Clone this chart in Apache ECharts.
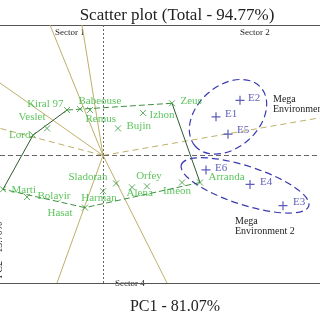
<!DOCTYPE html>
<html>
<head>
<meta charset="utf-8">
<script src="https://cdn.jsdelivr.net/npm/echarts@6/dist/echarts.min.js"></script>
<style>
  html, body { margin: 0; padding: 0; background: #fff; }
  #main { width: 320px; height: 320px; }
</style>
</head>
<body>
<div id="main"></div>
<script>
// genotypes (PC1, PC2)
var genoNames = ['Kiral 97', 'Babeouse', 'Remus', 'Veslet', 'Lord', 'Bujin', 'Izhon', 'Zeus',
    'Arranda', 'Imeon', 'Orfey', 'Alena', 'Sladoran', 'Harman', 'Bolayir', 'Marti', 'Hasat'];
var genoPC1 = [-0.72, -0.46, -0.26, -1.12, -1.40, 0.30, 0.80, 1.38,
    1.94, 1.58, 0.88, 0.58, 0.26, 0.00, -1.52, -2.00, -0.36];
var genoPC2 = [0.94, 0.96, 0.94, 0.56, 0.42, 0.56, 0.88, 1.08,
    -0.56, -0.56, -0.64, -0.66, -0.58, -0.74, -0.86, -0.70, -1.08];

// environments
var envNames = ['E1', 'E2', 'E3', 'E4', 'E5', 'E6'];
var envPC1 = [2.26, 2.74, 3.60, 2.94, 2.50, 2.06];
var envPC2 = [0.80, 1.14, -1.04, -0.60, 0.44, -0.30];

// polygon (vertex genotypes) and which edges are dashed
var polygonOrder = ['Zeus', 'Arranda', 'Hasat', 'Marti', 'Lord', 'Kiral 97'];
var edgeDashed = [false, true, true, false, false, true];

// sector rays from the origin, end points
var rayEnds = [[-2.06, 1.50], [-2.06, 0.56], [-1.06, 2.70], [-0.42, 2.70], [-0.92, -2.64], [1.28, -2.64], [4.34, 0.78]];
var rayDashed = [false, true, false, false, false, false, true];

// mega environments: center x, center y, semi axis x, semi axis y, angle
var megaEnv = [[2.50, 0.80, 0.88, 0.64, 42], [2.84, -0.62, 1.34, 0.40, -18]];

// label placement [position, dx, dy]
var genoLabel = {
    'Kiral 97': ['left', 5, -6], 'Babeouse': ['right', -10, -8], 'Remus': ['right', -13, 9],
    'Veslet': ['left', 7, -11], 'Lord': ['left', 6, 0], 'Bujin': ['right', 0, -2],
    'Izhon': ['right', -2, 2], 'Zeus': ['right', 0, -2], 'Arranda': ['right', 0, -5],
    'Imeon': ['bottom', -5, -5], 'Orfey': ['top', 2, 4], 'Alena': ['right', -14, 6],
    'Sladoran': ['left', 0, -6], 'Harman': ['bottom', -4, -7], 'Bolayir': ['right', 2, -1],
    'Marti': ['right', 0, 1], 'Hasat': ['left', -4, 5]
};
var envLabel = {
    'E1': [-1, -3], 'E2': [-2, -2], 'E3': [0, -4], 'E4': [0, -2], 'E5': [-1, -4], 'E6': [-1, -2]
};

var serif = 'Liberation Serif';
var green = '#35b535';
var blue = '#3434a8';

var genoData = genoNames.map(function (n, i) {
    var l = genoLabel[n];
    return { name: n, value: [genoPC1[i], genoPC2[i]], label: { position: l[0], offset: [l[1], l[2]] } };
});
var envData = envNames.map(function (n, i) {
    var l = envLabel[n];
    return { name: n, value: [envPC1[i], envPC2[i]], label: { offset: [l[0], l[1]] } };
});

function pt(name) {
    var i = genoNames.indexOf(name);
    return [genoPC1[i], genoPC2[i]];
}

var series = [];

// rays
rayEnds.forEach(function (e, i) {
    series.push({
        type: 'line', silent: true, symbol: 'none', z: 1,
        data: [[0, 0], e],
        lineStyle: { color: '#bcb06a', width: 1, type: rayDashed[i] ? [6, 4] : 'solid' }
    });
});

// polygon edges
polygonOrder.forEach(function (n, i) {
    var next = polygonOrder[(i + 1) % polygonOrder.length];
    series.push({
        type: 'line', silent: true, symbol: 'none', z: 2,
        data: [pt(n), pt(next)],
        lineStyle: edgeDashed[i] ? { color: '#3f8f3f', width: 1, type: [6, 3] } : { color: '#2b5a2b', width: 1 }
    });
});

// axes through origin
series.push({
    type: 'line', silent: true, data: [], z: 1,
    markLine: {
        silent: true, symbol: 'none', label: { show: false },
        data: [
            { xAxis: 0, lineStyle: { color: '#666', type: [2, 2], width: 1 } },
            { yAxis: 0, lineStyle: { color: '#666', type: [5, 3], width: 1 } }
        ]
    }
});

// mega environment ellipses
series.push({
    type: 'custom', silent: true, z: 3,
    data: megaEnv,
    renderItem: function (params, api) {
        var c = api.coord([api.value(0), api.value(1)]);
        var s = api.size([api.value(2), api.value(3)]);
        return {
            type: 'ellipse',
            x: c[0], y: c[1],
            rotation: api.value(4) * Math.PI / 180,
            shape: { cx: 0, cy: 0, rx: s[0], ry: s[1] },
            style: { fill: 'none', stroke: '#3a3ab0', lineWidth: 1.2, lineDash: [7, 4] }
        };
    }
});

// genotypes
series.push({
    type: 'scatter', z: 4,
    symbol: 'path://M0,0L10,10M10,0L0,10', symbolSize: 6,
    itemStyle: { color: 'transparent', borderColor: '#3a9a3a', borderWidth: 1 },
    label: { show: true, formatter: '{b}', color: green, fontFamily: serif, fontSize: 11, distance: 5 },
    data: genoData
});

// environments
series.push({
    type: 'scatter', z: 4,
    symbol: 'path://M5,0L5,10M0,5L10,5', symbolSize: 9,
    itemStyle: { color: 'transparent', borderColor: blue, borderWidth: 1.2 },
    label: { show: true, position: 'right', formatter: '{b}', color: blue, fontFamily: serif, fontSize: 11, distance: 5 },
    data: envData
});

var myChart = echarts.init(document.getElementById('main'));
myChart.setOption({
    animation: false,
    title: {
        text: 'Scatter plot (Total - 94.77%)',
        left: 172, top: 2, textAlign: 'center',
        textStyle: { fontFamily: serif, fontSize: 17, fontWeight: 'normal', color: '#222' }
    },
    grid: { left: 0, right: 0, top: 25, bottom: 28 },
    xAxis: [{
        type: 'value', min: -2.06, max: 4.34, position: 'bottom',
        name: 'PC1 - 81.07%', nameLocation: 'middle', nameGap: 16,
        nameTextStyle: { fontFamily: serif, fontSize: 16, color: '#222', padding: [0, 0, 0, 30] },
        axisLine: { show: true, onZero: false, lineStyle: { color: '#555' } },
        axisTick: { show: false }, axisLabel: { show: false }, splitLine: { show: false }
    }, {
        type: 'value', min: -2.06, max: 4.34, position: 'top',
        axisLine: { show: true, onZero: false, lineStyle: { color: '#555' } },
        axisTick: { show: false }, axisLabel: { show: false }, splitLine: { show: false }
    }],
    yAxis: {
        type: 'value', min: -2.64, max: 2.70,
        axisLine: { show: false }, axisTick: { show: false }, axisLabel: { show: false }, splitLine: { show: false }
    },
    graphic: [
        { type: 'text', left: 55, top: 28, style: { text: 'Sector 1', font: '9px ' + serif, fill: '#222' } },
        { type: 'text', left: 240, top: 28, style: { text: 'Sector 2', font: '9px ' + serif, fill: '#222' } },
        { type: 'text', left: 115, top: 279, style: { text: 'Sector 4', font: '9px ' + serif, fill: '#222' } },
        { type: 'text', left: 273, top: 94, style: { text: 'Mega\nEnvironment 1', font: '10px ' + serif, fill: '#222', lineHeight: 10 } },
        { type: 'text', left: 235, top: 216, style: { text: 'Mega\nEnvironment 2', font: '10px ' + serif, fill: '#222', lineHeight: 10 } },
        { type: 'text', x: -1, y: 250, rotation: Math.PI / 2, style: { text: 'PC2 - 13.70%', font: '10px ' + serif, fill: '#222', align: 'center', verticalAlign: 'middle' } }
    ],
    series: series
});
</script>
</body>
</html>
